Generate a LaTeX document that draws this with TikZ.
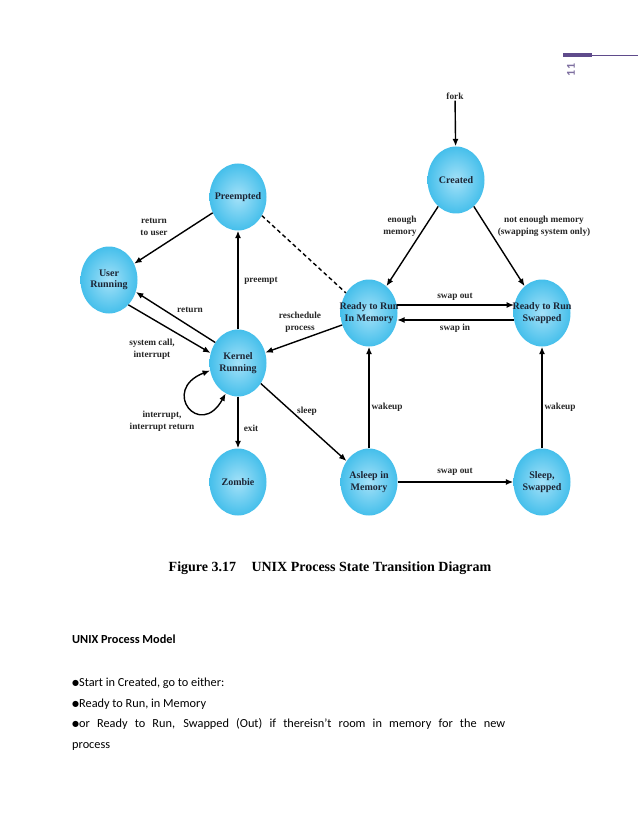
\documentclass[tikz,border=0pt]{standalone}
\usepackage{fontspec}
\setmainfont{Liberation Serif}
\newfontfamily\bodyfont{Carlito}
\newfontfamily\symfont{DejaVu Sans}
\usetikzlibrary{shapes.geometric,arrows.meta,calc}
\definecolor{ballin}{HTML}{A4E1F8}
\definecolor{ballout}{HTML}{45BFEB}
\definecolor{stxt}{HTML}{1C2535}
\definecolor{pline}{HTML}{5F4B8B}
\definecolor{pnum}{HTML}{7E70A0}
\newcommand\mybul{\raisebox{0.5pt}{\symfont\fontsize{8}{10}\selectfont ●}}
\begin{document}
\begin{tikzpicture}[x=1pt,y=-1pt,
  state/.style={ellipse, minimum width=57pt, minimum height=67pt, inner sep=0pt,
    inner color=ballin, outer color=ballout},
  stext/.style={text=stxt, inner sep=0pt,
    font=\fontsize{10}{11.5}\selectfont\bfseries, align=center},
  tr/.style={line width=1.4pt, -{Latex[length=7.5pt,width=6pt]}},
  lbl/.style={font=\fontsize{9.3}{12}\selectfont\bfseries, text=black!85, inner sep=1pt},
  body/.style={anchor=base west, inner sep=0pt, font=\bodyfont\fontsize{12.3}{14}\selectfont}]
\useasboundingbox (0,0) rectangle (638,826);

% header
\draw[pline, line width=0.8pt] (563,55) -- (638,55);
\fill[pline] (563,53.5) rectangle (592,57.5);
\node[rotate=90, font=\bodyfont\bfseries\fontsize{12}{14}\selectfont, text=pnum] (pg) at (571,70) {11};

% states
\node[state] (cr) at (456,180) {};
\node[state] (rm) at (369,313) {};
\node[state] (rs) at (542,313) {};
\node[state] (pr) at (238,197) {};
\node[state] (ur) at (109,280) {};
\node[state] (kr) at (238,363) {};
\node[state] (zo) at (238,482) {};
\node[state] (as) at (369,482) {};
\node[state] (ss) at (542,482) {};
\node[stext] (crt) at (cr) {Created};
\node[stext] (rmt) at (rm) {Ready to Run\\In Memory};
\node[stext] (rst) at (rs) {Ready to Run\\Swapped};
\node[stext] (prt) at (pr) {Preempted};
\node[stext] (urt) at (ur) {User\\Running};
\node[stext] (krt) at (kr) {Kernel\\Running};
\node[stext] (zot) at (zo) {Zombie};
\node[stext] (ast) at (as) {Asleep in\\Memory};
\node[stext] (sst) at (ss) {Sleep,\\Swapped};

% transitions
\node[lbl] (fork) at (455,96) {fork};
\draw[tr] (fork) -- (cr);
\draw[tr] (cr.236) -- (rm.57);
\draw[tr] (cr.-56) -- (rs.123);
\draw[tr] (rm.16) -- (rs.164);
\draw[tr] (rs.194) -- (rm.-14);
\draw[tr] (rm.204) -- (kr.21);
\draw[line width=1.4pt, dash pattern=on 4pt off 3pt] (pr.-38) -- (rm.139);
\draw[tr] (pr.212) -- (ur.33);
\draw[tr] (kr) -- (pr);
\draw[tr] (kr.138) -- (ur.-24);
\draw[tr] (ur.-52) -- (kr.160);
\draw[line width=1.4pt, {Latex[length=7.5pt,width=6pt]}-{Latex[length=7.5pt,width=6pt]}]
  (kr.248) .. controls (200,440) and (160,390) .. (kr.195);
\draw[tr] (kr) -- (zo);
\draw[tr] (kr.-42) -- (as.137);
\draw[tr] (as) -- (rm);
\draw[tr] (as) -- (ss);
\draw[tr] (ss) -- (rs);

% labels
\node[lbl, align=right] (l1) at (400,226) {enough\\memory};
\node[lbl, align=center] (l2) at (544,226) {not enough memory\\(swapping system only)};
\node[lbl] (l3) at (455,297) {swap out};
\node[lbl] (l4) at (455,328) {swap in};
\node[lbl, align=center] (l5) at (300,322) {reschedule\\process};
\node[lbl, align=center] (l6) at (154,227) {return\\to user};
\node[lbl] (l7) at (261,281) {preempt};
\node[lbl] (l8) at (190,310) {return};
\node[lbl, align=center] (l9) at (152,349) {system call,\\interrupt};
\node[lbl, align=center] (l10) at (162,421) {interrupt,\\interrupt return};
\node[lbl] (l11) at (251,428) {exit};
\node[lbl] (l12) at (307,411) {sleep};
\node[lbl] (l13) at (387,407) {wakeup};
\node[lbl] (l14) at (560,407) {wakeup};
\node[lbl] (l15) at (455,472) {swap out};

% caption
\node[font=\fontsize{14}{16}\selectfont\bfseries] (cap) at (330,568)
  {Figure 3.17\hspace{1.1em}UNIX Process State Transition Diagram};

% body text
\node[body, font=\bodyfont\bfseries\fontsize{12.3}{14}\selectfont] (h) at (72,643) {UNIX Process Model};
\node[body] (b1) at (72,686) {\mybul Start in Created, go to either:};
\node[body] (b2) at (72,707) {\mybul Ready to Run, in Memory};
\node[body] (b3) at (72,727) {\makebox[433pt][s]{\mybul or Ready to Run, Swapped (Out) if thereisn’t room in memory for the new}};
\node[body] (b4) at (72,748) {process};
\end{tikzpicture}
\end{document}
